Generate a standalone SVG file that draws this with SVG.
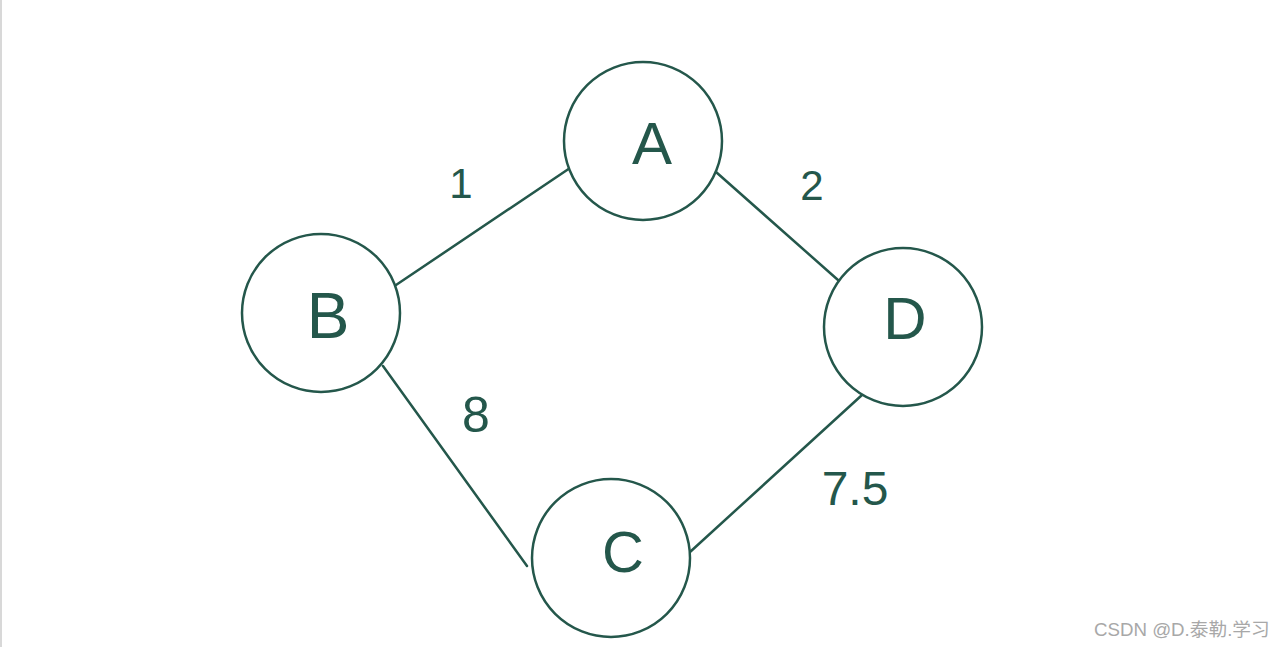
<svg xmlns="http://www.w3.org/2000/svg" width="1284" height="647" viewBox="0 0 1284 647">
<style>
.node{fill:#ffffff;stroke:#24574b;stroke-width:2.5}
.edge{stroke:#24574b;stroke-width:2.5;fill:none;stroke-linecap:round}
.lbl{font-family:"Liberation Sans",Arial,sans-serif;fill:#24574b;text-anchor:middle}
.w{font-family:"Liberation Sans","Noto Sans CJK SC",sans-serif;font-size:18.7px;fill:#a8a8a8}
</style>
<rect width="1284" height="647" fill="#ffffff"/>
<line x1="1" y1="0" x2="1" y2="647" stroke="#d8d8d8" stroke-width="2"/>
<g id="connectors">
<line class="edge" x1="396" y1="285" x2="570" y2="168"/>
<line class="edge" x1="716" y1="172" x2="838" y2="280"/>
<line class="edge" x1="383" y1="366" x2="527" y2="566"/>
<line class="edge" x1="690" y1="552" x2="862" y2="395"/>
<text class="lbl" x="461" y="198" font-size="42">1</text>
<text class="lbl" x="812" y="200" font-size="42">2</text>
<text class="lbl" x="476" y="432" font-size="50">8</text>
<text class="lbl" x="855" y="505" font-size="48">7.5</text>
</g>
<g id="node-A">
<circle class="node" cx="643" cy="141" r="79"/>
<text class="lbl" x="652" y="164" font-size="60">A</text>
</g>
<g id="node-B">
<circle class="node" cx="321" cy="313" r="79"/>
<text class="lbl" x="328" y="338" font-size="64">B</text>
</g>
<g id="node-D">
<circle class="node" cx="903" cy="327" r="79"/>
<text class="lbl" x="905" y="339" font-size="60">D</text>
</g>
<g id="node-C">
<circle class="node" cx="611" cy="558" r="79"/>
<text class="lbl" x="623" y="572" font-size="58">C</text>
</g>
<text class="w" x="1094" y="636">CSDN @D.泰勒.学习</text>
</svg>
